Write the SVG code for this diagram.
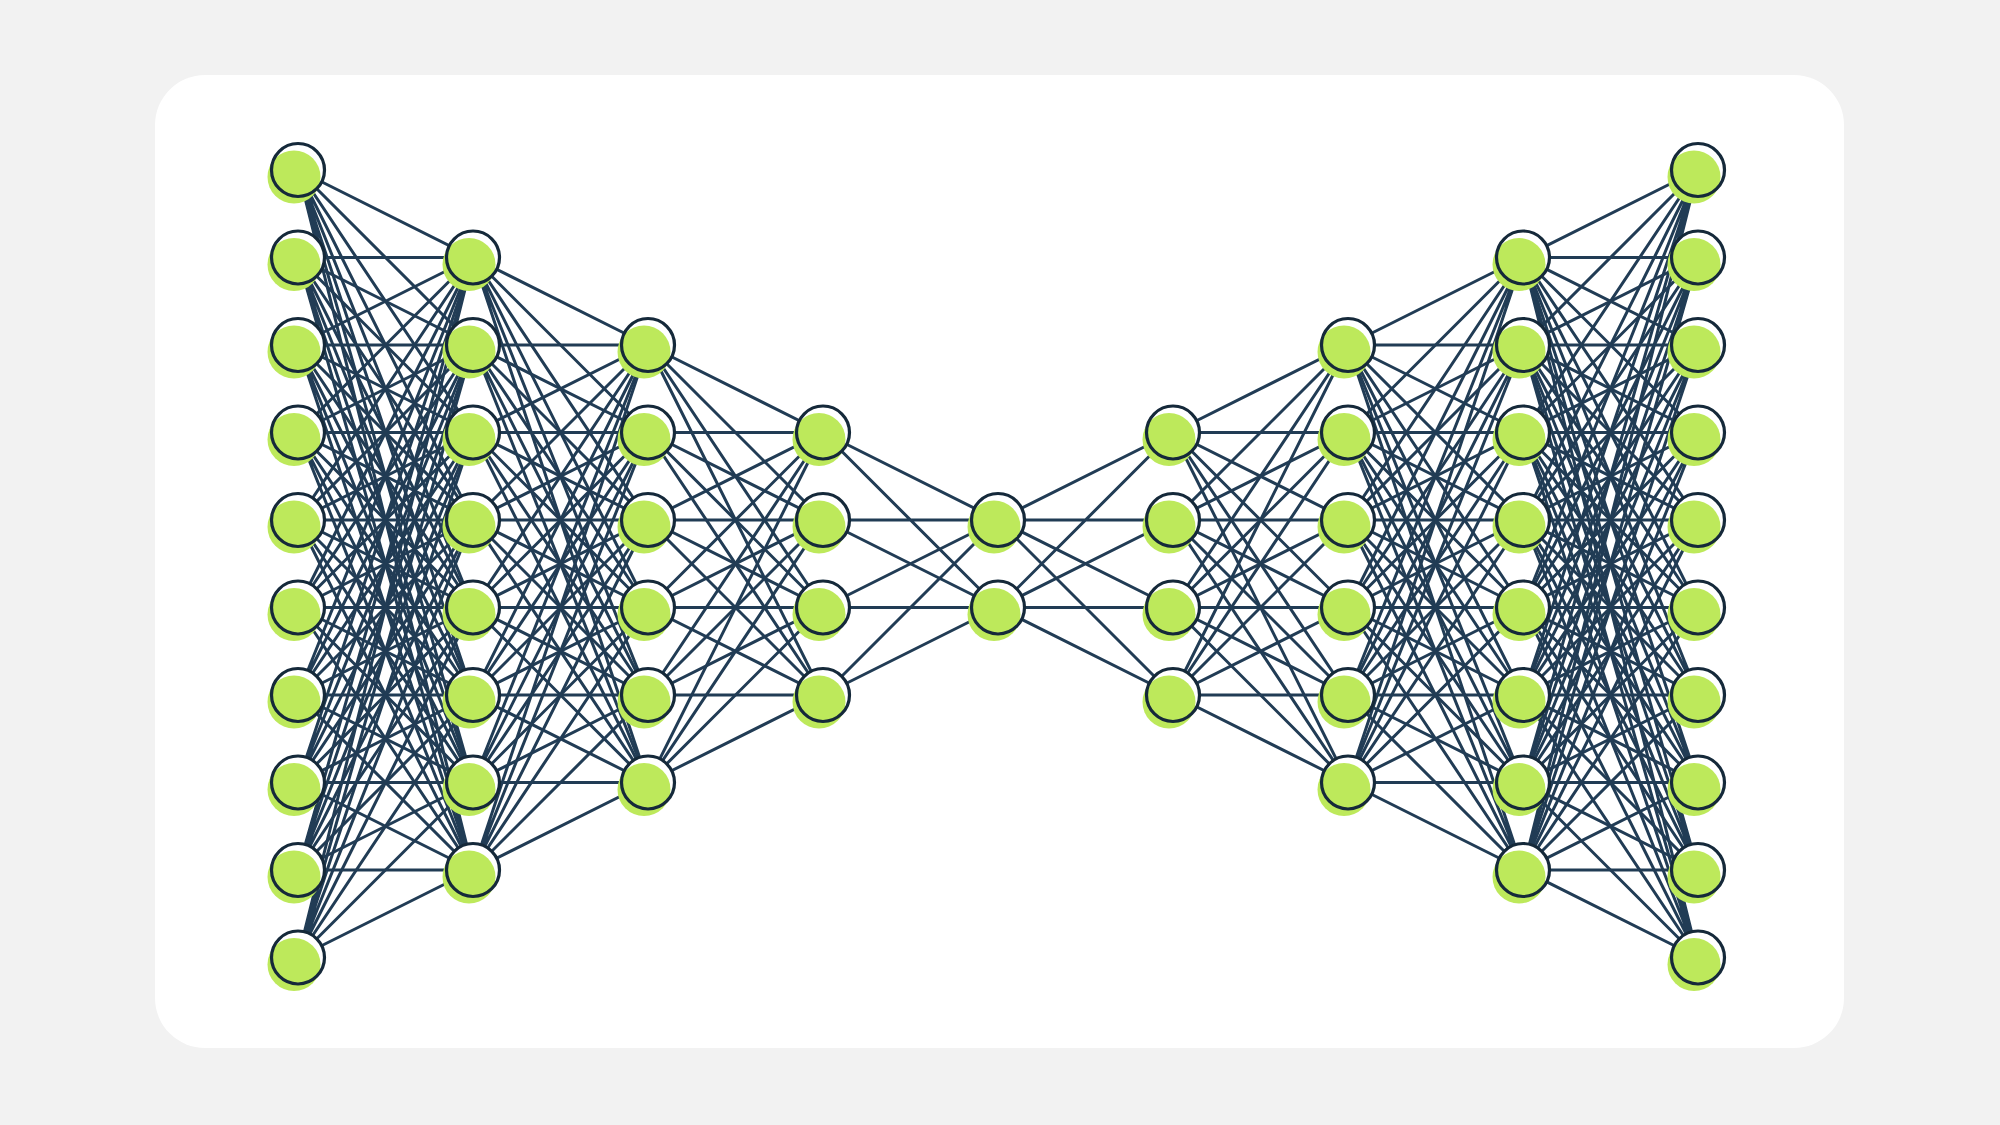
<svg xmlns="http://www.w3.org/2000/svg" xmlns:xlink="http://www.w3.org/1999/xlink" width="2000" height="1125" viewBox="0 0 2000 1125">
<defs>
<style>
.edges path{fill:none;stroke:#213c55;stroke-width:3;stroke-linecap:round}
.ring{fill:none;stroke:#15293a;stroke-width:3.2}
</style>
<g id="node">
<circle r="26.5" fill="#ffffff"/>
<circle cx="-4" cy="7" r="26.5" fill="#bde95b"/>
<circle r="26.5" class="ring"/>
</g>
</defs>
<rect width="2000" height="1125" fill="#f2f2f2"/>
<rect x="155" y="75" width="1689" height="973" rx="50" fill="#ffffff"/>
<g id="connectors" class="edges">
<g id="left-edges">
<path d="M298 170L473 257.5M298 170L473 345M298 170L473 432.5M298 170L473 520M298 170L473 607.5M298 170L473 695M298 170L473 782.5M298 170L473 870"/>
<path d="M298 257.5L473 257.5M298 257.5L473 345M298 257.5L473 432.5M298 257.5L473 520M298 257.5L473 607.5M298 257.5L473 695M298 257.5L473 782.5M298 257.5L473 870"/>
<path d="M298 345L473 257.5M298 345L473 345M298 345L473 432.5M298 345L473 520M298 345L473 607.5M298 345L473 695M298 345L473 782.5M298 345L473 870"/>
<path d="M298 432.5L473 257.5M298 432.5L473 345M298 432.5L473 432.5M298 432.5L473 520M298 432.5L473 607.5M298 432.5L473 695M298 432.5L473 782.5M298 432.5L473 870"/>
<path d="M298 520L473 257.5M298 520L473 345M298 520L473 432.5M298 520L473 520M298 520L473 607.5M298 520L473 695M298 520L473 782.5M298 520L473 870"/>
<path d="M298 607.5L473 257.5M298 607.5L473 345M298 607.5L473 432.5M298 607.5L473 520M298 607.5L473 607.5M298 607.5L473 695M298 607.5L473 782.5M298 607.5L473 870"/>
<path d="M298 695L473 257.5M298 695L473 345M298 695L473 432.5M298 695L473 520M298 695L473 607.5M298 695L473 695M298 695L473 782.5M298 695L473 870"/>
<path d="M298 782.5L473 257.5M298 782.5L473 345M298 782.5L473 432.5M298 782.5L473 520M298 782.5L473 607.5M298 782.5L473 695M298 782.5L473 782.5M298 782.5L473 870"/>
<path d="M298 870L473 257.5M298 870L473 345M298 870L473 432.5M298 870L473 520M298 870L473 607.5M298 870L473 695M298 870L473 782.5M298 870L473 870"/>
<path d="M298 957.5L473 257.5M298 957.5L473 345M298 957.5L473 432.5M298 957.5L473 520M298 957.5L473 607.5M298 957.5L473 695M298 957.5L473 782.5M298 957.5L473 870"/>
<path d="M473 257.5L648 345M473 257.5L648 432.5M473 257.5L648 520M473 257.5L648 607.5M473 257.5L648 695M473 257.5L648 782.5"/>
<path d="M473 345L648 345M473 345L648 432.5M473 345L648 520M473 345L648 607.5M473 345L648 695M473 345L648 782.5"/>
<path d="M473 432.5L648 345M473 432.5L648 432.5M473 432.5L648 520M473 432.5L648 607.5M473 432.5L648 695M473 432.5L648 782.5"/>
<path d="M473 520L648 345M473 520L648 432.5M473 520L648 520M473 520L648 607.5M473 520L648 695M473 520L648 782.5"/>
<path d="M473 607.5L648 345M473 607.5L648 432.5M473 607.5L648 520M473 607.5L648 607.5M473 607.5L648 695M473 607.5L648 782.5"/>
<path d="M473 695L648 345M473 695L648 432.5M473 695L648 520M473 695L648 607.5M473 695L648 695M473 695L648 782.5"/>
<path d="M473 782.5L648 345M473 782.5L648 432.5M473 782.5L648 520M473 782.5L648 607.5M473 782.5L648 695M473 782.5L648 782.5"/>
<path d="M473 870L648 345M473 870L648 432.5M473 870L648 520M473 870L648 607.5M473 870L648 695M473 870L648 782.5"/>
<path d="M648 345L823 432.5M648 345L823 520M648 345L823 607.5M648 345L823 695"/>
<path d="M648 432.5L823 432.5M648 432.5L823 520M648 432.5L823 607.5M648 432.5L823 695"/>
<path d="M648 520L823 432.5M648 520L823 520M648 520L823 607.5M648 520L823 695"/>
<path d="M648 607.5L823 432.5M648 607.5L823 520M648 607.5L823 607.5M648 607.5L823 695"/>
<path d="M648 695L823 432.5M648 695L823 520M648 695L823 607.5M648 695L823 695"/>
<path d="M648 782.5L823 432.5M648 782.5L823 520M648 782.5L823 607.5M648 782.5L823 695"/>
<path d="M823 432.5L998 520M823 432.5L998 607.5M823 520L998 520M823 520L998 607.5M823 607.5L998 520M823 607.5L998 607.5M823 695L998 520M823 695L998 607.5"/>
</g>
<use id="right-edges" xlink:href="#left-edges" href="#left-edges" transform="matrix(-1 0 0 1 1996 0)"/>
</g>
<g id="nodes">
<g id="n0-0"><use href="#node" xlink:href="#node" x="298" y="170"/></g>
<g id="n0-1"><use href="#node" xlink:href="#node" x="298" y="257.5"/></g>
<g id="n0-2"><use href="#node" xlink:href="#node" x="298" y="345"/></g>
<g id="n0-3"><use href="#node" xlink:href="#node" x="298" y="432.5"/></g>
<g id="n0-4"><use href="#node" xlink:href="#node" x="298" y="520"/></g>
<g id="n0-5"><use href="#node" xlink:href="#node" x="298" y="607.5"/></g>
<g id="n0-6"><use href="#node" xlink:href="#node" x="298" y="695"/></g>
<g id="n0-7"><use href="#node" xlink:href="#node" x="298" y="782.5"/></g>
<g id="n0-8"><use href="#node" xlink:href="#node" x="298" y="870"/></g>
<g id="n0-9"><use href="#node" xlink:href="#node" x="298" y="957.5"/></g>
<g id="n1-1"><use href="#node" xlink:href="#node" x="473" y="257.5"/></g>
<g id="n1-2"><use href="#node" xlink:href="#node" x="473" y="345"/></g>
<g id="n1-3"><use href="#node" xlink:href="#node" x="473" y="432.5"/></g>
<g id="n1-4"><use href="#node" xlink:href="#node" x="473" y="520"/></g>
<g id="n1-5"><use href="#node" xlink:href="#node" x="473" y="607.5"/></g>
<g id="n1-6"><use href="#node" xlink:href="#node" x="473" y="695"/></g>
<g id="n1-7"><use href="#node" xlink:href="#node" x="473" y="782.5"/></g>
<g id="n1-8"><use href="#node" xlink:href="#node" x="473" y="870"/></g>
<g id="n2-2"><use href="#node" xlink:href="#node" x="648" y="345"/></g>
<g id="n2-3"><use href="#node" xlink:href="#node" x="648" y="432.5"/></g>
<g id="n2-4"><use href="#node" xlink:href="#node" x="648" y="520"/></g>
<g id="n2-5"><use href="#node" xlink:href="#node" x="648" y="607.5"/></g>
<g id="n2-6"><use href="#node" xlink:href="#node" x="648" y="695"/></g>
<g id="n2-7"><use href="#node" xlink:href="#node" x="648" y="782.5"/></g>
<g id="n3-3"><use href="#node" xlink:href="#node" x="823" y="432.5"/></g>
<g id="n3-4"><use href="#node" xlink:href="#node" x="823" y="520"/></g>
<g id="n3-5"><use href="#node" xlink:href="#node" x="823" y="607.5"/></g>
<g id="n3-6"><use href="#node" xlink:href="#node" x="823" y="695"/></g>
<g id="n4-4"><use href="#node" xlink:href="#node" x="998" y="520"/></g>
<g id="n4-5"><use href="#node" xlink:href="#node" x="998" y="607.5"/></g>
<g id="n5-3"><use href="#node" xlink:href="#node" x="1173" y="432.5"/></g>
<g id="n5-4"><use href="#node" xlink:href="#node" x="1173" y="520"/></g>
<g id="n5-5"><use href="#node" xlink:href="#node" x="1173" y="607.5"/></g>
<g id="n5-6"><use href="#node" xlink:href="#node" x="1173" y="695"/></g>
<g id="n6-2"><use href="#node" xlink:href="#node" x="1348" y="345"/></g>
<g id="n6-3"><use href="#node" xlink:href="#node" x="1348" y="432.5"/></g>
<g id="n6-4"><use href="#node" xlink:href="#node" x="1348" y="520"/></g>
<g id="n6-5"><use href="#node" xlink:href="#node" x="1348" y="607.5"/></g>
<g id="n6-6"><use href="#node" xlink:href="#node" x="1348" y="695"/></g>
<g id="n6-7"><use href="#node" xlink:href="#node" x="1348" y="782.5"/></g>
<g id="n7-1"><use href="#node" xlink:href="#node" x="1523" y="257.5"/></g>
<g id="n7-2"><use href="#node" xlink:href="#node" x="1523" y="345"/></g>
<g id="n7-3"><use href="#node" xlink:href="#node" x="1523" y="432.5"/></g>
<g id="n7-4"><use href="#node" xlink:href="#node" x="1523" y="520"/></g>
<g id="n7-5"><use href="#node" xlink:href="#node" x="1523" y="607.5"/></g>
<g id="n7-6"><use href="#node" xlink:href="#node" x="1523" y="695"/></g>
<g id="n7-7"><use href="#node" xlink:href="#node" x="1523" y="782.5"/></g>
<g id="n7-8"><use href="#node" xlink:href="#node" x="1523" y="870"/></g>
<g id="n8-0"><use href="#node" xlink:href="#node" x="1698" y="170"/></g>
<g id="n8-1"><use href="#node" xlink:href="#node" x="1698" y="257.5"/></g>
<g id="n8-2"><use href="#node" xlink:href="#node" x="1698" y="345"/></g>
<g id="n8-3"><use href="#node" xlink:href="#node" x="1698" y="432.5"/></g>
<g id="n8-4"><use href="#node" xlink:href="#node" x="1698" y="520"/></g>
<g id="n8-5"><use href="#node" xlink:href="#node" x="1698" y="607.5"/></g>
<g id="n8-6"><use href="#node" xlink:href="#node" x="1698" y="695"/></g>
<g id="n8-7"><use href="#node" xlink:href="#node" x="1698" y="782.5"/></g>
<g id="n8-8"><use href="#node" xlink:href="#node" x="1698" y="870"/></g>
<g id="n8-9"><use href="#node" xlink:href="#node" x="1698" y="957.5"/></g>
</g>
</svg>
